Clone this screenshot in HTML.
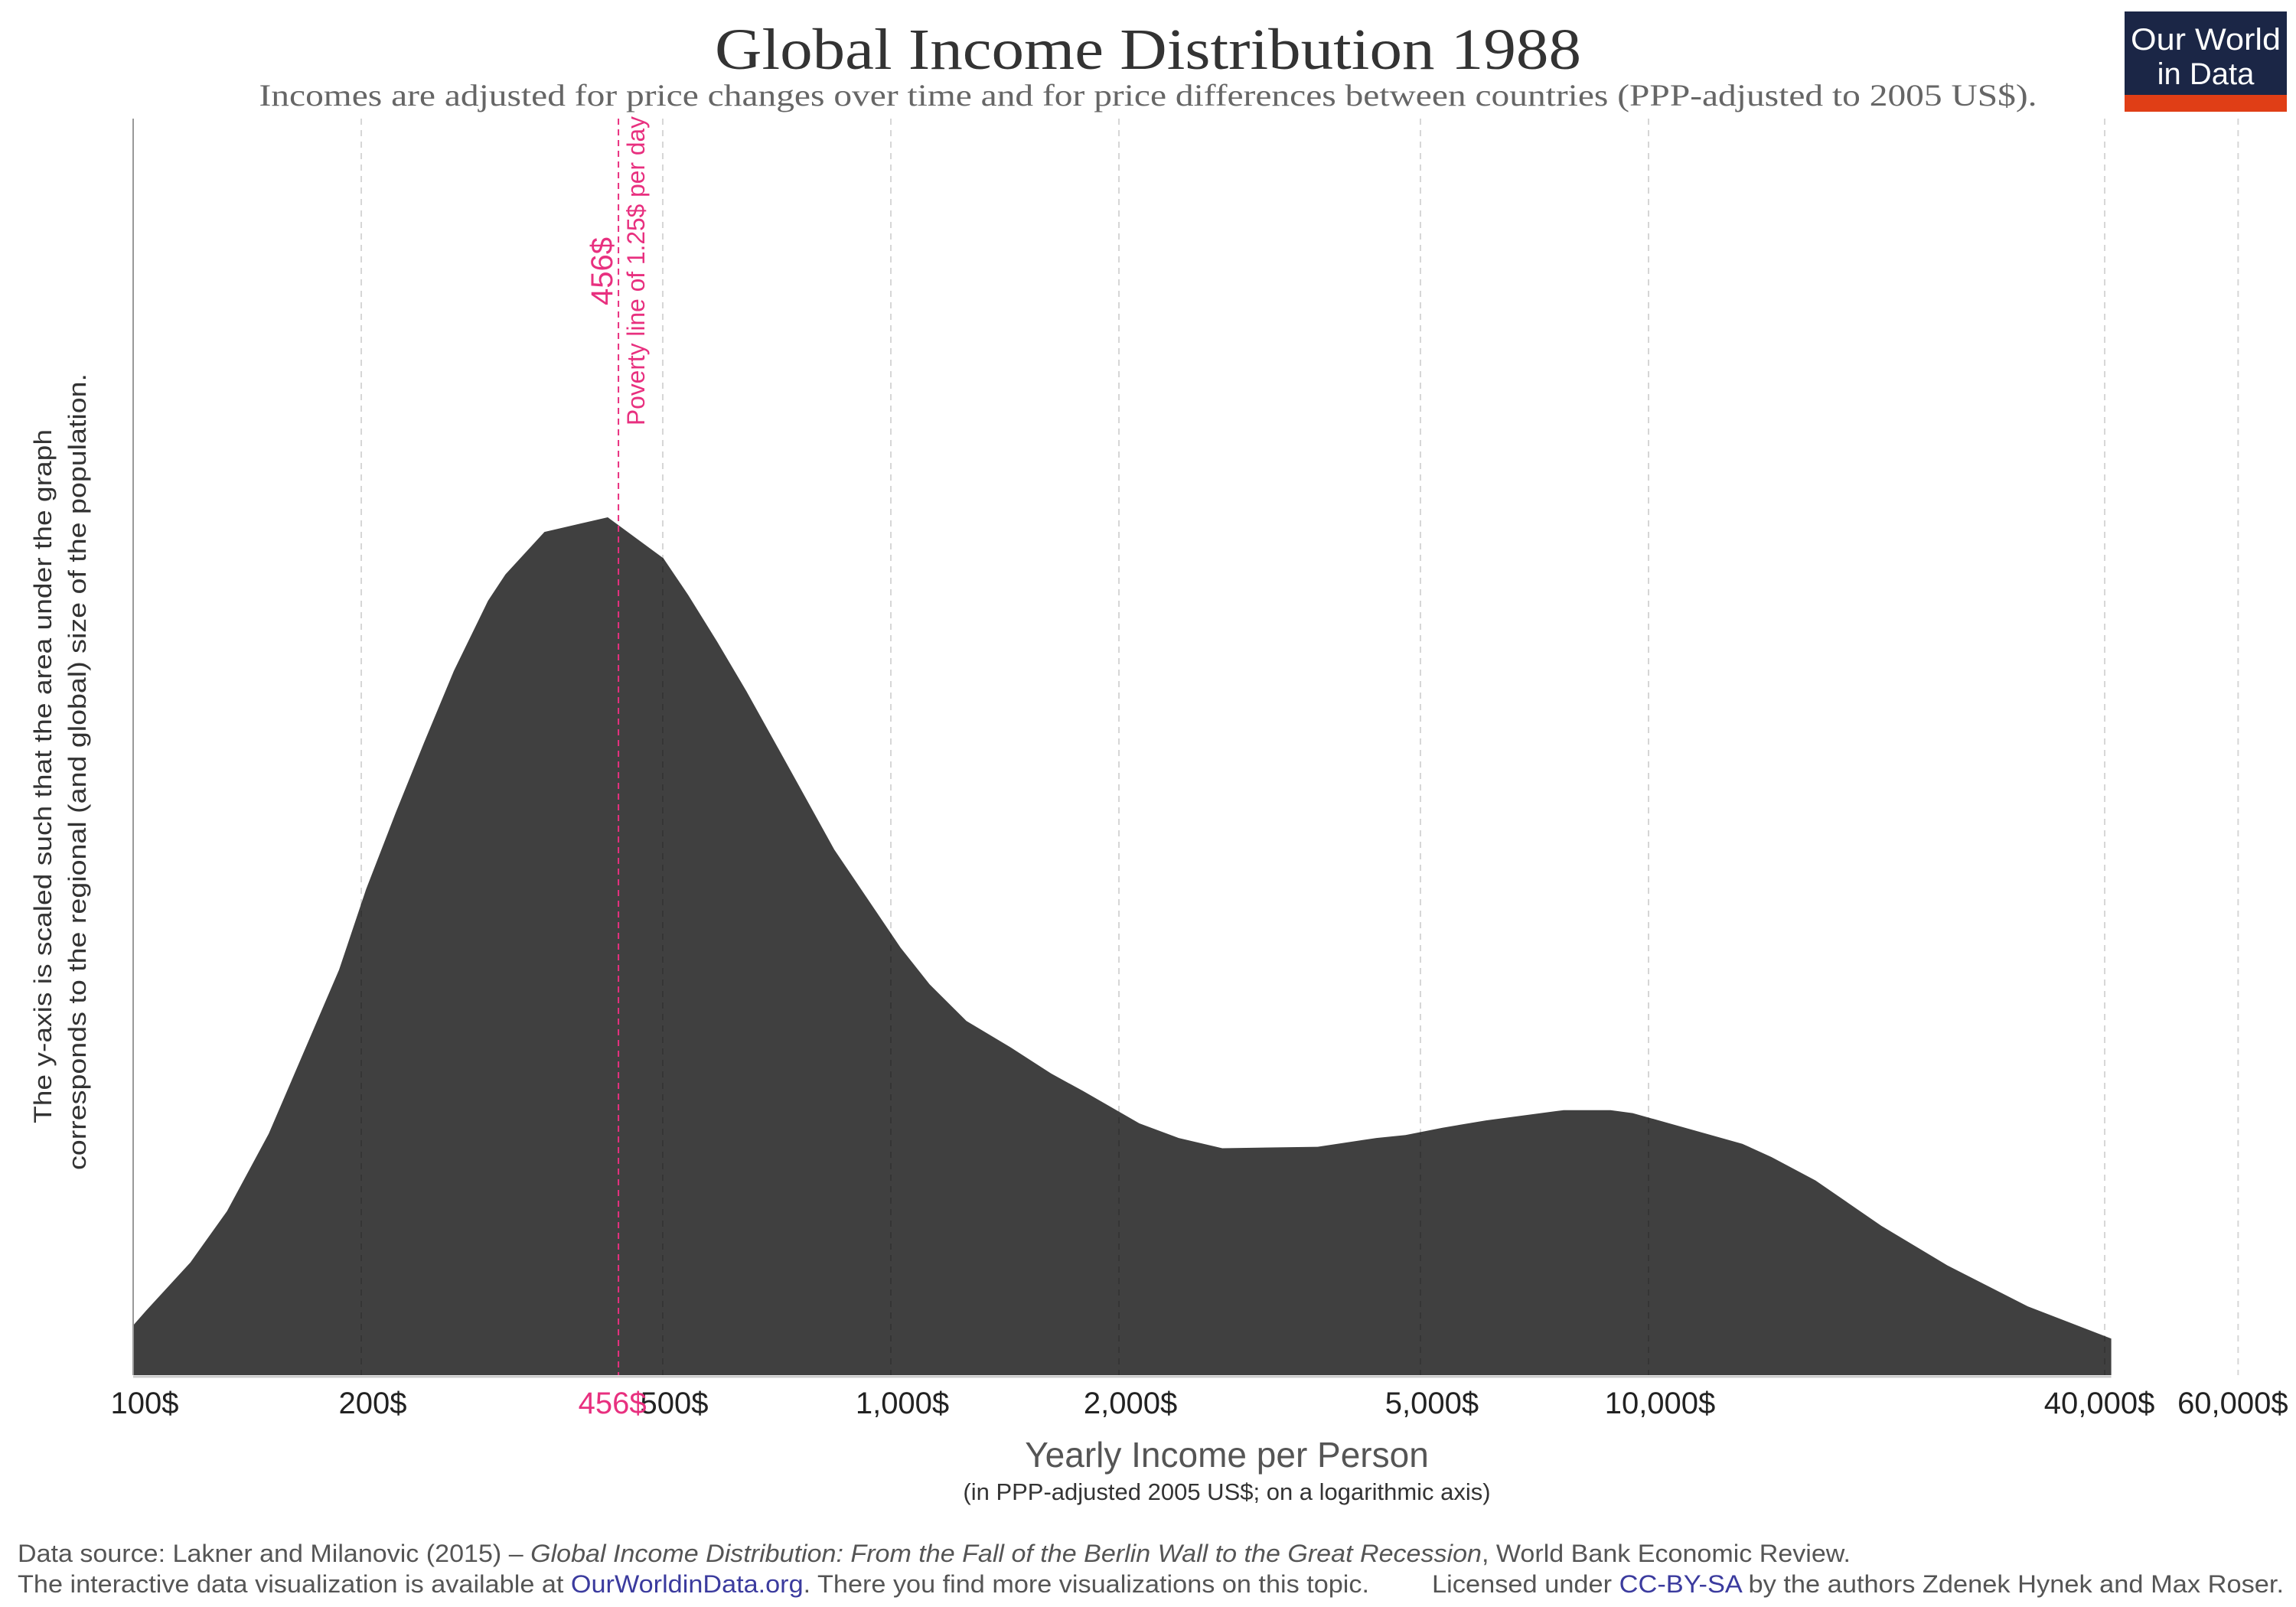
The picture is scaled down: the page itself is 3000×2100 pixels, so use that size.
<!DOCTYPE html>
<html><head><meta charset="utf-8">
<style>
html,body{margin:0;padding:0;background:#fff;}
svg{display:block;font-family:"Liberation Sans",Arial,sans-serif;}
</style></head>
<body>
<svg id="chart" width="3000" height="2100" viewBox="0 0 3000 2100" xmlns="http://www.w3.org/2000/svg">
  <text x="1500" y="90" text-anchor="middle" font-family="Liberation Serif, serif" font-size="76" fill="#333" textLength="1132" lengthAdjust="spacingAndGlyphs">Global Income Distribution 1988</text>
  <text x="1500" y="138" text-anchor="middle" font-family="Liberation Serif, serif" font-size="40" fill="#666" textLength="2323" lengthAdjust="spacingAndGlyphs">Incomes are adjusted for price changes over time and for price differences between countries (PPP-adjusted to 2005 US$).</text>
  <g>
    <rect x="2776" y="15" width="212" height="113" fill="#1b2646"/>
    <rect x="2776" y="124" width="212" height="22" fill="#e03e16"/>
    <text x="2882" y="65" text-anchor="middle" font-size="40" fill="#fff" textLength="196" lengthAdjust="spacingAndGlyphs">Our World</text>
    <text x="2882" y="110" text-anchor="middle" font-size="40" fill="#fff">in Data</text>
  </g>
  <g fill="#333" font-size="32">
    <text transform="translate(67,1468) rotate(-90)" textLength="907" lengthAdjust="spacingAndGlyphs">The y-axis is scaled such that the area under the graph</text>
    <text transform="translate(112,1529) rotate(-90)" textLength="1041" lengthAdjust="spacingAndGlyphs">corresponds to the regional (and global) size of the population.</text>
  </g>
  <g id="plot"></g>
  <text x="1603" y="1917" text-anchor="middle" font-size="46" fill="#555">Yearly Income per Person</text>
  <text x="1603" y="1960" text-anchor="middle" font-size="31" fill="#333">(in PPP-adjusted 2005 US$; on a logarithmic axis)</text>
  <text x="23" y="2041" font-size="32" fill="#555" textLength="2395" lengthAdjust="spacingAndGlyphs">Data source: Lakner and Milanovic (2015) – <tspan font-style="italic">Global Income Distribution: From the Fall of the Berlin Wall to the Great Recession</tspan>, World Bank Economic Review.</text>
  <text x="23" y="2081" font-size="32" fill="#555" textLength="1766" lengthAdjust="spacingAndGlyphs">The interactive data visualization is available at <tspan fill="#3b3b9e">OurWorldinData.org</tspan>. There you find more visualizations on this topic.</text>
  <text x="1871" y="2081" font-size="32" fill="#555" textLength="1113" lengthAdjust="spacingAndGlyphs">Licensed under <tspan fill="#3b3b9e">CC-BY-SA</tspan> by the authors Zdenek Hynek and Max Roser.</text>
</svg>
<script>
const incomes = [100,104,119,133,151,170,187,203,222,242,265,294,310,349,423,501,540,590,645,721,842,1030,1125,1258,1438,1628,1795,2128,2398,2738,3659,4373,4779,5346,6105,7727,8912,9529,10654,13300,14530,16610,20290,24790,31660,40800];
const densities = [34,44,77,112,165,227,277,332,384,432,481,529,547,576,586,558,533,501,467,422,359,292,267,242,224,206,194,172,162,155,156,162,164,169,174,181,181,179,172,158,149,133,102,75,47,25];
const tickValues = [100,200,500,1000,2000,5000,10000,40000,60000];
const tickLabels = ["100$","200$","500$","1,000$","2,000$","5,000$","10,000$","40,000$","60,000$"];
const povertyValue = [437];
const povertyLabel = ["456$"];

const NS = "http://www.w3.org/2000/svg";
const X0 = 174, PER_DEC = 990, BASE = 1797, YS = 1.913, TOP = 155;
function x(v){ return X0 + PER_DEC * Math.log10(v/100); }
function y(d){ return BASE - d*YS; }
const plot = document.getElementById('plot');
function mk(tag, attrs){ const e=document.createElementNS(NS,tag); for(const k in attrs) e.setAttribute(k,attrs[k]); plot.appendChild(e); return e; }

let d = `M${x(incomes[0])},${BASE}`;
incomes.forEach((v,i)=>{ d += ` L${x(v).toFixed(1)},${y(densities[i]).toFixed(1)}`; });
d += ` L${x(incomes[incomes.length-1]).toFixed(1)},${BASE} Z`;
const area = mk('path',{d:d, fill:'#404040'});



const bl = mk('line',{x1:X0,x2:x(incomes[incomes.length-1]),y1:BASE+2,y2:BASE+2,stroke:'#ccc','stroke-width':3});



tickValues.forEach((v,i)=>{
  if(i>0){
    const g = mk('line',{x1:x(v),x2:x(v),y1:TOP,y2:BASE,stroke:'rgba(0,0,0,0.16)','stroke-width':2,'stroke-dasharray':'8,7'});
    
    
  }
  const off = i >= tickValues.length-2 ? -7 : 15;
  const t = mk('text',{x:x(v)+off,y:1847,'text-anchor':'middle','font-size':40,fill:'#222'});
  t.textContent = tickLabels[i];
  
  
});

const ya = mk('line',{x1:X0,x2:X0,y1:TOP,y2:BASE,stroke:'#999','stroke-width':2});



const px = x(povertyValue[0]);
const pl = mk('line',{x1:px,x2:px,y1:TOP,y2:BASE,stroke:'#e8307f','stroke-width':2,'stroke-dasharray':'8,6'});


const pt = mk('text',{x:px-8,y:1847,'text-anchor':'middle','font-size':40,fill:'#e8307f'});
pt.textContent = povertyLabel[0];


const pv = mk('text',{transform:`translate(${px-8},399) rotate(-90)`,'font-size':40,fill:'#e8307f'});
pv.textContent = povertyLabel[0];


const pd = mk('text',{transform:`translate(${px+34},556) rotate(-90)`,'font-size':32,fill:'#e8307f',textLength:404,lengthAdjust:'spacingAndGlyphs'});
pd.textContent = 'Poverty line of 1.25$ per day';


</script>
</body></html>
